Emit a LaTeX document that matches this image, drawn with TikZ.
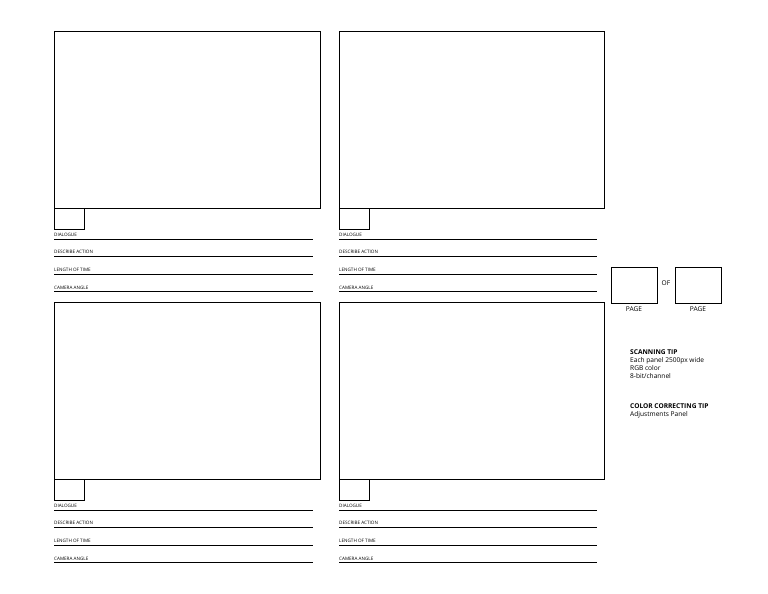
\documentclass[tikz,border=0pt]{standalone}
\usepackage{fontspec}
\setmainfont{Open Sans}
\usetikzlibrary{positioning}

\begin{document}
\begin{tikzpicture}[x=1pt,y=-1pt,thin,
                    panel/.style={draw,line width=0.7pt},
                    caption/.style={font=\fontsize{4.6}{5}\selectfont,inner sep=0pt,anchor=west},
                    tip/.style={font=\fontsize{6.6}{7.8}\selectfont,inner sep=0pt,anchor=north west,align=left}]

  \useasboundingbox (0,0) rectangle (768,594);

  % four panels with their rule lines
  \foreach \px/\py/\w/\nm in {54/31/266/tl,339/31/265/tr,54/302/266/bl,339/302/265/br}{
    \draw[panel] (\px,\py) rectangle ++(\w,177);
    \draw[panel] (\px,\py+177) rectangle ++(30,21);
    \foreach \txt [count=\i] in {DIALOGUE,DESCRIBE ACTION,LENGTH OF TIME,CAMERA ANGLE}{
      \node[caption] (\nm\i) at (\px,\py+186+17.6*\i) {\txt};
      \draw[line width=0.7pt] (\px,\py+191+17.4*\i) -- ++(\w-7,0);
    }
  }

  % page counter
  \node[panel,minimum width=46pt,minimum height=36pt,inner sep=0pt] (page1) at (634,285) {};
  \node[panel,minimum width=46pt,minimum height=36pt,inner sep=0pt] (page2) at (698,285) {};
  \node[font=\fontsize{6.6}{7}\selectfont,inner sep=0pt] (of) at (666,283) {OF};
  \node[font=\fontsize{6.6}{7}\selectfont,inner sep=0pt,below=3.5pt of page1] (pagea) {PAGE};
  \node[font=\fontsize{6.6}{7}\selectfont,inner sep=0pt,below=3.5pt of page2] (pageb) {PAGE};

  % tips
  \node[tip] (scan) at (630,350) {\textbf{SCANNING TIP}\\Each panel 2500px wide\\RGB color\\8-bit/channel};
  \node[tip] (color) at (630,404) {\textbf{COLOR CORRECTING TIP}\\Adjustments Panel};
\end{tikzpicture}
\end{document}
